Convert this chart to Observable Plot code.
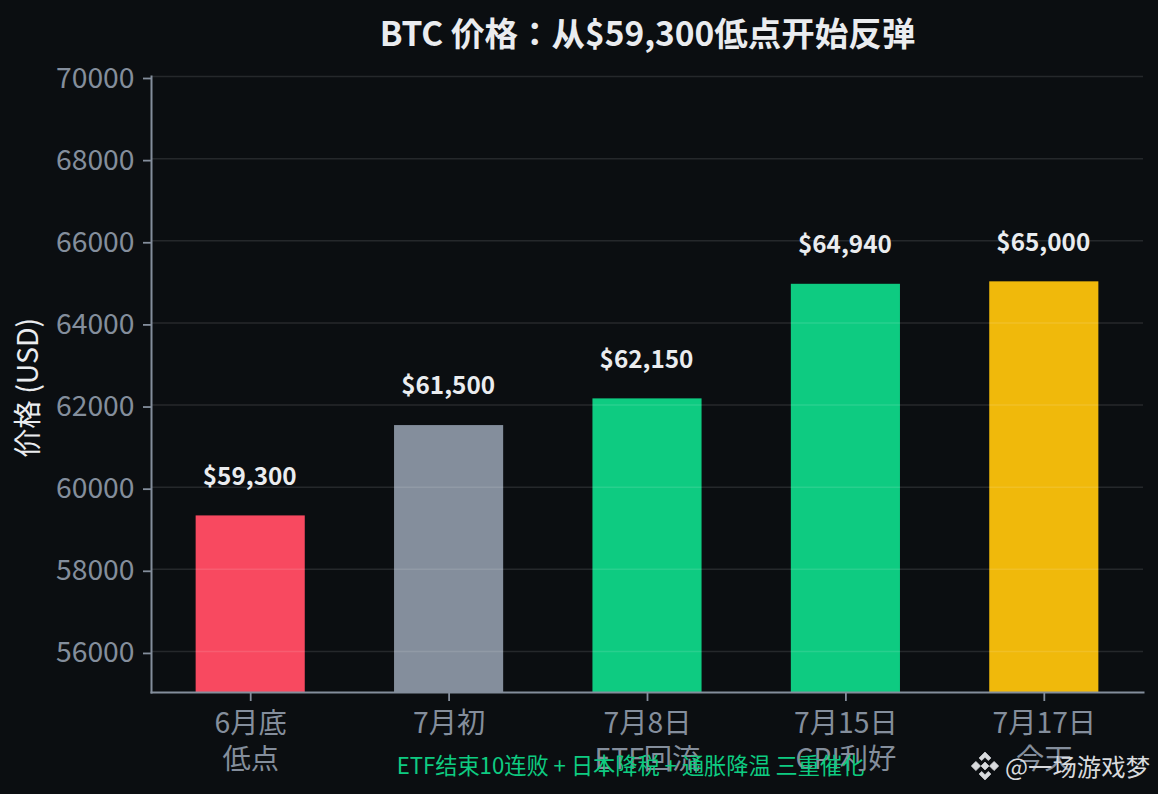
<!DOCTYPE html>
<html>
<head>
<meta charset="utf-8">
<script src="https://cdn.jsdelivr.net/npm/d3@7"></script>
<script src="https://cdn.jsdelivr.net/npm/@observablehq/plot@0.6"></script>
<style>
html,body{margin:0;padding:0;background:#0b0e11;width:1158px;height:794px;overflow:hidden}
body{position:relative;font-family:"Noto Sans CJK JP",sans-serif}
#chart svg{display:block}
.t{position:absolute;white-space:nowrap;line-height:1}
#title{left:0;width:1295px;text-align:center;top:15px;font-size:33.5px;font-weight:700;color:#eaecef}
#caption{left:0;width:1261px;text-align:center;top:753px;font-size:22.2px;color:#0ecb81}
#mark{left:970px;top:751px;display:flex;align-items:center;gap:5px;font-size:24.4px;color:#d8dadd}
</style>
</head>
<body>
<div id="chart"></div>
<div id="title" class="t">BTC 价格：从$59,300低点开始反弹</div>
<div id="caption" class="t">ETF结束10连败 + 日本降税 + 通胀降温 三重催化</div>
<div id="mark" class="t"><svg width="30" height="30" viewBox="0 0 28 28" fill="#d8dadd" stroke="#d8dadd" stroke-width="0.7"><path d="M14 1l5.500 5.500-2.400 2.400L14 5.800l-3.100 3.100-2.400-2.400zM5.500 9.700l4.300 4.300-4.300 4.300L1.200 14zM22.500 9.700l4.300 4.300-4.300 4.300-4.300-4.300zM14 10.300l3.700 3.700-3.700 3.700-3.700-3.700zM14 27l-5.500-5.500 2.400-2.400 3.100 3.100 3.100-3.100 2.400 2.400z"/></svg><span>@一场游戏梦</span></div>
<script>
const categories = ["6月底\n低点", "7月初", "7月8日\nETF回流", "7月15日\nCPI利好", "7月17日\n今天"];
const prices = [59300, 61500, 62150, 64940, 65000];
const priceLabels = ["$59,300", "$61,500", "$62,150", "$64,940", "$65,000"];
const yTicks = [56000, 58000, 60000, 62000, 64000, 66000, 68000, 70000];
const palette = ["#f84960", "#848e9c", "#0ecb81", "#0ecb81", "#f0b90b"];

const rows = categories.map((category, i) => ({category, price: prices[i], label: priceLabels[i]}));
const font = '"Noto Sans CJK JP", sans-serif';

const chart = Plot.plot({
  width: 1158, height: 794,
  marginTop: 76, marginBottom: 102, marginLeft: 151, marginRight: 15,
  style: {background: "#0b0e11", fontFamily: font, overflow: "visible"},
  x: {domain: categories, paddingInner: 0.45, paddingOuter: 0.225, round: false, label: null},
  y: {domain: [55000, 70000], label: null},
  color: {domain: categories, range: palette},
  marks: [
    Plot.barY(rows, {x: "category", y1: () => 55000, y2: "price", fill: "category"}),
    Plot.gridY(yTicks, {stroke: "#ffffff", strokeOpacity: 0.11, strokeWidth: 1.5}),
    Plot.frame({anchor: "left", stroke: "#848e9c", strokeWidth: 2, strokeOpacity: 1}),
    Plot.frame({anchor: "bottom", stroke: "#848e9c", strokeWidth: 2, strokeOpacity: 1}),
    Plot.axisY(yTicks, {
      anchor: "left", tickSize: 8, tickPadding: 9, stroke: "#848e9c", strokeWidth: 1.8,
      fill: "#848e9c", fontSize: 28.3, dy: 2, tickFormat: d => String(d), label: null
    }),
    Plot.axisX({
      anchor: "bottom", tickSize: 9, tickPadding: 7, stroke: "#848e9c", strokeWidth: 1.8,
      fill: "#848e9c", fontSize: 28.3, lineHeight: 1.24, label: null, lineWidth: Infinity
    }),
    Plot.text(["价格 (USD)"], {
      frameAnchor: "left", rotate: -90, textAnchor: "middle", dx: -123, dy: 3, fill: "#eaecef", fontSize: 28.5
    }),
    Plot.text(rows, {
      x: "category", y: "price", text: "label", dy: -39, dx: -1,
      fill: "#eaecef", fontSize: 24.3, fontWeight: 700
    })
  ]
});
document.getElementById("chart").append(chart);
</script>
</body>
</html>
